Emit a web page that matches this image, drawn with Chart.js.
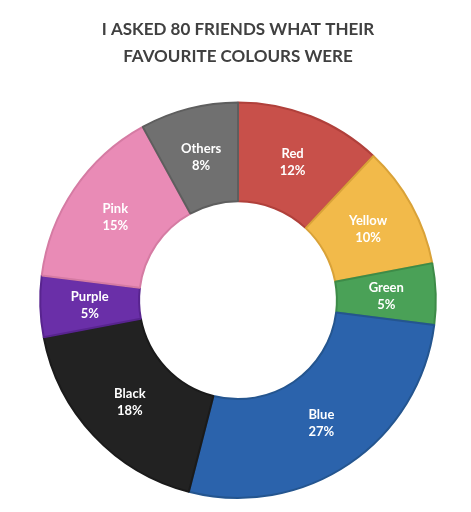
<!DOCTYPE html>
<html>
<head>
<meta charset="utf-8">
<script src="https://cdn.jsdelivr.net/npm/chart.js@4"></script>
<style>
  html, body { margin: 0; padding: 0; background: #fff; }
  #wrap { width: 471px; height: 512px; }
</style>
</head>
<body>
<div id="wrap"><canvas id="chart-colours"></canvas></div>
<script>
const categories = ['Red', 'Yellow', 'Green', 'Blue', 'Black', 'Purple', 'Pink', 'Others'];
const shares = [12, 10, 5, 27, 18, 5, 15, 8];
const fills = ['#C8504A', '#F2BA4A', '#4AA157', '#2B63AC', '#222222', '#6A2FA8', '#E98BB6', '#707070'];
const edges = ['#B0403B', '#D9A238', '#3D8B48', '#24558F', '#1A1A1A', '#58248F', '#D57BA3', '#5E5E5E'];

// draws "Name / NN%" in the middle of each ring segment
const sliceLabels = {
  id: 'sliceLabels',
  afterDatasetsDraw(chart) {
    const { ctx } = chart;
    const meta = chart.getDatasetMeta(0);
    ctx.save();
    ctx.fillStyle = '#ffffff';
    ctx.textAlign = 'center';
    ctx.textBaseline = 'middle';
    ctx.font = 'bold 13px Lato, "Open Sans", sans-serif';
    meta.data.forEach((arc, i) => {
      const p = arc.tooltipPosition();
      ctx.fillText(categories[i], p.x, p.y - 8);
      ctx.fillText(shares[i] + '%', p.x, p.y + 9);
    });
    ctx.restore();
  },
};

new Chart(document.getElementById('chart-colours'), {
  type: 'doughnut',
  data: {
    labels: categories,
    datasets: [{
      data: shares,
      backgroundColor: fills,
      borderColor: edges,
      borderWidth: 2,
    }],
  },
  options: {
    responsive: true,
    maintainAspectRatio: false,
    animation: false,
    cutout: '50%',
    layout: { padding: { top: 0, bottom: 13, left: 5, right: 0 } },
    plugins: {
      legend: { display: false },
      tooltip: { enabled: false },
      title: {
        display: true,
        text: ['I ASKED 80 FRIENDS WHAT THEIR', 'FAVOURITE COLOURS WERE'],
        color: '#404040',
        font: { family: 'Lato, "Open Sans", sans-serif', size: 17, weight: 'bold', lineHeight: 1.6 },
        padding: { top: 16, bottom: 31 },
      },
    },
  },
  plugins: [sliceLabels],
});
</script>
</body>
</html>
